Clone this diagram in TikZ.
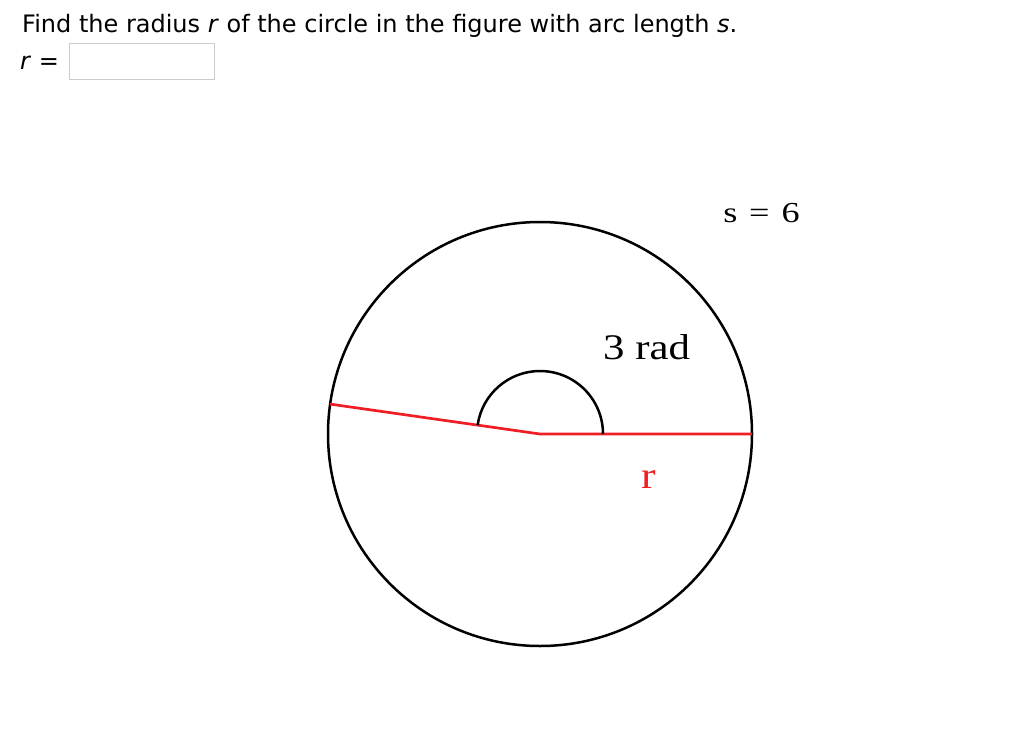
\documentclass[tikz,border=0pt]{standalone}
\usepackage{fontspec}
\usetikzlibrary{calc}
\setmainfont{Liberation Serif}
\newfontfamily\uisans{DejaVu Sans}
\definecolor{redline}{RGB}{238,30,36}
\definecolor{boxgrey}{RGB}{204,204,204}
\begin{document}
\begin{tikzpicture}[x=1pt,y=-1pt,
  ui/.style={font=\uisans\fontsize{24}{28}\selectfont, inner sep=0pt},
  lbl/.style={inner sep=0pt},
  curve/.style={line width=2.5pt, black},
  radius line/.style={line width=2.7pt, redline}]
\useasboundingbox (0,0) rectangle (1024,755);
\node[ui, anchor=base west] (title) at (22,32) {Find the radius \textit{r} of the circle in the figure with arc length \textit{s}.};
\node[ui, anchor=base west] (req) at (20,69) {\textit{r} =};
\node[draw=boxgrey, line width=1pt, minimum width=145pt, minimum height=36pt, anchor=north west, inner sep=0pt] (answer) at (69,43) {};
\coordinate (O) at (540,434);
\coordinate (A) at (752,434);
\coordinate (B) at ($(O)+(-171.89:212)$);
\draw[curve] (O) circle[radius=212];
\draw[radius line] (B) -- (O) -- (A);
\draw[curve] ($(O)+(0:63)$) arc[start angle=0, end angle=-171.89, radius=63];
\node[lbl, anchor=base west, font=\fontsize{29}{32}\selectfont, xscale=1.25] (s) at (723,222) {s\hspace{9.5pt}=\hspace{9.5pt}6};
\node[lbl, anchor=base west, font=\fontsize{36}{40}\selectfont, xscale=1.19] (rad) at (603,359) {3 rad};
\node[lbl, anchor=base west, font=\fontsize{38}{40}\selectfont, xscale=1.15, text=redline] (r) at (641,488) {r};
\end{tikzpicture}
\end{document}
